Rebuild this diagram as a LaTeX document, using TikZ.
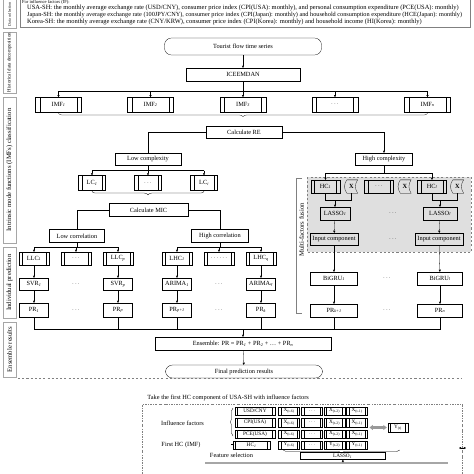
\documentclass[tikz,border=0pt]{standalone}
\usepackage{fontspec}
\setmainfont{Liberation Serif}
\usetikzlibrary{decorations.pathreplacing, calc, arrows.meta}
\newcommand{\idx}[1]{\textsubscript{\textit{#1}}}
\tikzset{
    every node/.style={font=\fontsize{9}{10}\selectfont},
    arr/.style={-{Triangle[length=3pt, width=3pt]}},
    plainbox/.style={draw, minimum height=0.62cm, inner sep=1pt},
    procbox/.style={draw, minimum height=0.72cm, inner sep=1pt,
        path picture={
            \draw ([xshift=#1]path picture bounding box.north west)
                -- ([xshift=#1]path picture bounding box.south west);
            \draw ([xshift=-#1]path picture bounding box.north east)
                -- ([xshift=-#1]path picture bounding box.south east);
        }},
    procbox/.default=0.22cm,
    roundbox/.style={draw, rounded corners=0.35cm, minimum width=7.85cm},
    sidelabel/.style={draw=gray!70, rotate=90, minimum height=0.65cm,
        inner sep=0pt, font=\fontsize{9.5}{10}\selectfont},
    xbox/.style={minimum width=0.6cm, minimum height=0.65cm, inner sep=0pt,
        font=\bfseries\fontsize{9}{10}\selectfont},
    downbrace/.style={decorate, decoration={brace, mirror, amplitude=5pt}},
    tinybox/.style={procbox=0.12cm, minimum height=0.42cm,
        font=\fontsize{7.5}{8}\selectfont},
    iftext/.style={anchor=west, inner sep=0pt, font=\fontsize{9.2}{10}\selectfont},
}

\begin{document}
\begin{tikzpicture}[x=0.05cm, y=-0.05cm]
    \useasboundingbox (0,0) rectangle (474,474);
    \clip (0,0) rectangle (474,474);

    % stage labels on the left
    \draw[gray!70] (3,-10) rectangle (16,28.5);
    \node[rotate=90, inner sep=0pt, font=\fontsize{5.6}{6}\selectfont]
        (stdata) at (9.5,14.2) {Data collection};
    \node[sidelabel, minimum width=3.05cm, font=\fontsize{7}{7}\selectfont]
        (stdecomp) at (9.5,62.5) {Historical data decomposition};
    \node[sidelabel, minimum width=7.3cm] (stclass) at (9.5,170)
        {Intrinsic mode functions (IMFs) classification};
    \node[sidelabel, minimum width=3.55cm] (stpred) at (9.5,282.5)
        {Individual prediction};
    \node[sidelabel, minimum width=2.75cm] (stens) at (9.5,349.5)
        {Ensemble results};

    % data collection
    \draw[gray] (20,-10) rectangle (470,27.5);
    \node[iftext, font=\fontsize{6.5}{7}\selectfont] (ifhead) at (22,2.3)
        {For influence factors (IF):};
    \node[iftext] (ifusa) at (27,7.6) {USA-SH: the monthly
        average exchange rate (USD/CNY), consumer price index (CPI(USA):
        monthly), and personal consumption expenditure (PCE(USA): monthly)};
    \node[iftext, font=\fontsize{8.9}{10}\selectfont] (ifjap) at (27,15)
        {Japan-SH: the monthly average exchange rate (100JPY/CNY), consumer
        price index (CPI(Japan): monthly) and household consumption
        expenditure (HCE(Japan): monthly)};
    \node[iftext] (ifkor) at (27,22.4) {Korea-SH: the monthly
        average exchange rate (CNY/KRW), consumer price index (CPI(Korea):
        monthly) and household income (HI(Korea): monthly)};

    % decomposition
    \node[roundbox, minimum height=0.85cm] (tfts) at (243,46.5)
        {Tourist flow time series};
    \node[plainbox, minimum width=5.7cm, minimum height=0.65cm] (icee)
        at (243,74.5) {ICEEMDAN};
    \draw[arr] (tfts) -- (icee);
    \foreach \i/\x/\t in {1/58.5/IMF\idx{1}, 2/150.5/IMF\idx{2},
        3/243/IMF\idx{3}, 4/335/$\cdots$, 5/427.5/IMF\idx{n}}
        \node[procbox, minimum width=2.3cm] (imf\i) at (\x,104.5) {\t};
    \coordinate (imfbar) at (243,91);
    \draw (icee) -- (icee.south |- imfbar);
    \draw (imf1.north |- imfbar) -- (imf5.north |- imfbar);
    \foreach \i in {1,...,5}
        \draw[arr] (imf\i.north |- imfbar) -- (imf\i);
    \draw[downbrace] ([yshift=-2pt]imf1.south) -- ([yshift=-2pt]imf5.south);

    % classification
    \node[plainbox, minimum width=3.8cm, minimum height=0.6cm] (re)
        at (244,132.5) {Calculate RE};
    \node[plainbox, minimum width=3.3cm, minimum height=0.6cm] (lowc)
        at (148,159) {Low complexity};
    \node[plainbox, minimum width=2.85cm, minimum height=0.6cm] (highc)
        at (384,159) {High complexity};
    \draw (re.west) -| (lowc.north);
    \draw[arr] (re.east) -| (highc.north);

    \foreach \i/\x/\t in {1/92/LC\idx{1}, 2/148/$\cdots$, 3/204/LC\idx{i}}
        \node[procbox=0.17cm, minimum width=1.35cm, minimum height=0.75cm]
            (lc\i) at (\x,183) {\t};
    \coordinate (lcbar) at (148,170.5);
    \draw (lowc) -- (lowc.south |- lcbar);
    \draw (lc1.north |- lcbar) -- (lc3.north |- lcbar);
    \foreach \i in {1,2,3}
        \draw[arr] (lc\i.north |- lcbar) -- (lc\i);
    \draw[downbrace] ([yshift=-1pt]lc1.south) -- ([yshift=-1pt]lc3.south);

    \node[plainbox, minimum width=3.95cm, minimum height=0.65cm] (mic)
        at (148.5,210) {Calculate MIC};
    \node[plainbox, minimum width=2.75cm, minimum height=0.65cm] (lowr)
        at (77,236) {Low correlation};
    \node[plainbox, minimum width=2.85cm, minimum height=0.65cm] (highr)
        at (220,236) {High correlation};
    \draw (mic.west) -| (lowr.north);
    \draw (mic.east) -| (highr.north);

    % multi-factors fusion area
    \draw[dashed, draw=gray, fill=gray!25] (307,177) rectangle (471,252);
    \draw[gray] (302,178) -- (296,178) -- (296,313) -- (302,313);
    \node[rotate=90, font=\fontsize{9.5}{10}\selectfont] (mff) at (301.5,230)
        {Multi-factors fusion};

    \foreach \i/\x/\t in {1/325.5/HC\idx{1}, 2/379/$\cdots$, 3/432/HC\idx{l}}
        \node[procbox=0.17cm, minimum width=1.45cm, minimum height=0.65cm]
            (hc\i) at (\x,186.5) {\t};
    \foreach \i/\x in {1/351.5, 2/405, 3/457.5}{
        \node[xbox] (xf\i) at (\x,186.5) {X};
        \draw ([xshift=2pt]xf\i.north west) -- (xf\i.north east)
            to[bend right=35] (xf\i.south east)
            -- ([xshift=2pt]xf\i.south west)
            to[bend left=35] ([xshift=2pt]xf\i.north west);
    }
    \coordinate (hcbar) at (384,173);
    \draw (highc) -- (highc.south |- hcbar);
    \draw (hc1.north |- hcbar) -- (hc3.north |- hcbar);
    \draw[arr] (hc1.north |- hcbar) -- (hc1);
    \draw[arr] (hc3.north |- hcbar) -- (hc3);

    \node[plainbox, minimum width=1.5cm, minimum height=0.65cm] (lasso1)
        at (335,213.5) {LASSO\idx{1}};
    \node (lassodots) at (393,213) {$\cdots$};
    \node[plainbox, minimum width=1.7cm, minimum height=0.65cm] (lasso2)
        at (440,213.5) {LASSO\idx{l}};
    \coordinate (jn1) at (335,200);
    \coordinate (jn2) at (440,200);
    \draw (hc1.south) -- (hc1.south |- jn1) -| (xf1.south);
    \draw (hc3.south) -- (hc3.south |- jn2) -| (xf3.south);
    \draw[arr] (jn1) -- (lasso1);
    \draw[arr] (jn2) -- (lasso2);

    \node[plainbox, minimum width=2.4cm, minimum height=0.6cm] (inp1)
        at (334,239) {Input component};
    \node (inpdots) at (393,239) {$\cdots$};
    \node[plainbox, minimum width=2.4cm, minimum height=0.6cm] (inp2)
        at (439,239) {Input component};
    \draw[arr] (lasso1) -- (inp1);
    \draw[arr] (lasso2) -- (inp2);

    % individual prediction
    \coordinate (llcbar) at (76,247);
    \coordinate (lhcbar) at (219,247);
    \foreach \i/\x/\t in {1/34/LLC\idx{1}, 2/76/$\cdots$, 3/118/LLC\idx{p},
        4/177/LHC\idx{1}, 5/219/$\cdots\cdots$, 6/261/LHC\idx{q}}
        \node[procbox=0.15cm, minimum width=1.5cm, minimum height=0.65cm]
            (pc\i) at (\x,258.5) {\t};
    \draw (lowr) -- (lowr.south |- llcbar);
    \draw (highr) -- (highr.south |- lhcbar);
    \draw (pc1.north |- llcbar) -- (pc3.north |- llcbar);
    \draw (pc4.north |- lhcbar) -- (pc6.north |- lhcbar);
    \foreach \i in {1,2,3}
        \draw[arr] (pc\i.north |- llcbar) -- (pc\i);
    \foreach \i in {4,5,6}
        \draw[arr] (pc\i.north |- lhcbar) -- (pc\i);

    \foreach \i/\x/\t in {1/34/SVR\idx{1}, 3/118/SVR\idx{p},
        4/177/ARIMA\idx{1}, 6/261/ARIMA\idx{q}}
        \node[plainbox, minimum width=1.45cm, minimum height=0.6cm]
            (md\i) at (\x,284) {\t};
    \node (mddots2) at (76,284) {$\cdots$};
    \node (mddots5) at (219,284) {$\cdots$};
    \foreach \i/\x/\t in {1/34/PR\idx{1}, 3/118/PR\idx{p},
        4/177/PR\idx{p+1}, 6/261/PR\idx{k}}
        \node[plainbox, minimum width=1.45cm, minimum height=0.7cm]
            (pr\i) at (\x,310) {\t};
    \node (prdots2) at (76,310) {$\cdots$};
    \node (prdots5) at (219,310) {$\cdots$};
    \foreach \i in {1,3,4,6}{
        \draw[arr] (pc\i) -- (md\i);
        \draw[arr] (md\i) -- (pr\i);
    }

    \node[plainbox, minimum width=2.35cm, minimum height=0.65cm] (bigru1)
        at (334,278.5) {BiGRU\idx{1}};
    \node (bigrudots) at (387,278.5) {$\cdots$};
    \node[plainbox, minimum width=2.25cm, minimum height=0.65cm] (bigru2)
        at (440,278.5) {BiGRU\idx{l}};
    \node[plainbox, minimum width=2.35cm, minimum height=0.65cm] (pr7)
        at (334,310.5) {PR\idx{k+1}};
    \node (prdots8) at (387,310.5) {$\cdots$};
    \node[plainbox, minimum width=2.25cm, minimum height=0.65cm] (pr9)
        at (440,310.5) {PR\idx{n}};
    \draw[arr] (inp1) -- (bigru1);
    \draw[arr] (inp2) -- (bigru2);
    \draw[arr] (bigru1) -- (pr7);
    \draw[arr] (bigru2) -- (pr9);

    % ensemble
    \coordinate (prbar) at (243,329);
    \node[plainbox, minimum width=8.8cm, minimum height=0.65cm] (ens)
        at (243,343.5) {Ensemble: PR = PR\idx{1} + PR\idx{2} + \dots{} + PR\idx{n}};
    \node[roundbox, minimum height=0.65cm] (final) at (244,371.5)
        {Final prediction results};
    \draw (pr1.south) -- (pr1.south |- prbar) -- (pr9.south |- prbar)
        -- (pr9.south);
    \foreach \i in {3,4,6,7}
        \draw (pr\i) -- (pr\i.south |- prbar);
    \draw[arr] (prbar) -- (ens);
    \draw[arr] (ens) -- (final);
    \draw[dashed, gray] (18,378.5) -- (462,378.5);

    % example of the first HC component
    \node[anchor=west] (extitle) at (145,398)
        {Take the first HC component of USA-SH with influence factors};
    \draw[gray, dash dot] (142,404.5) rectangle (462,490);
    \node (exif) at (182.5,423) {Influence factors};
    \node (exhc) at (181,445) {First HC (IMF)};
    \draw[decorate, decoration={brace, amplitude=4pt}] (233,436) -- (233,408);
    \foreach \r/\y/\t in {1/411/{USD/CNY}, 2/422.5/{CPI(USA)}, 3/434/{PCE(USA)}}{
        \node[tinybox, minimum width=2cm] (fac\r) at (255,\y) {\t};
        \foreach \c/\x/\s in {1/289/{(t-6)}, 2/312/, 3/334.5/{(t-2)}, 4/357/{(t-1)}}
            \node[tinybox, minimum width=1.05cm] (xv\r\c) at (\x,\y)
                {\ifx\s\empty$\cdots$\else X\textsubscript{\s}\fi};
    }
    \node[tinybox, minimum width=1.85cm] (hcone) at (251.5,445) {HC\idx{1}};
    \foreach \c/\x/\s in {1/289/{(t-6)}, 2/312/, 3/334.5/{(t-2)}, 4/357/{(t-1)}}
        \node[tinybox, minimum width=1.05cm] (yv\c) at (\x,445)
            {\ifx\s\empty$\cdots$\else Y\textsubscript{\s}\fi};
    \node[tinybox, minimum width=1cm] (yt) at (398,427.5) {Y\textsubscript{(t)}};
    \draw[gray!80, line width=3pt,
        {Triangle[length=5pt, width=7pt]}-{Triangle[length=5pt, width=7pt]}]
        (xv24.east |- yt) ++(2.5pt,0) -- ([xshift=-1.5pt]yt.west);
    \draw[line width=1.2pt, double] (exhc.east) ++(40pt,0) -- (hcone.west);
    \draw[downbrace, decoration={amplitude=4pt}]
        ([xshift=7pt, yshift=-1pt]yv1.south west)
        -- ([xshift=-12pt, yshift=-1pt]yv4.south east -| yt.east);
    \node (fsel) at (231.5,455.5) {Feature selection};
    \node[plainbox, minimum width=4.25cm, minimum height=0.35cm,
        font=\fontsize{7.5}{8}\selectfont] (exlasso) at (342.5,456) {LASSO\idx{1}};
    \coordinate (exline) at (343,463);
    \draw[gray!70, line width=2pt] (205,463) -- (448,463);
    \draw[arr] (exline) -- (exlasso);
    \draw[{Triangle[length=3pt, width=3pt]}-{Triangle[length=3pt, width=3pt]}]
        (459,448) -- (466,448);
\end{tikzpicture}
\end{document}
